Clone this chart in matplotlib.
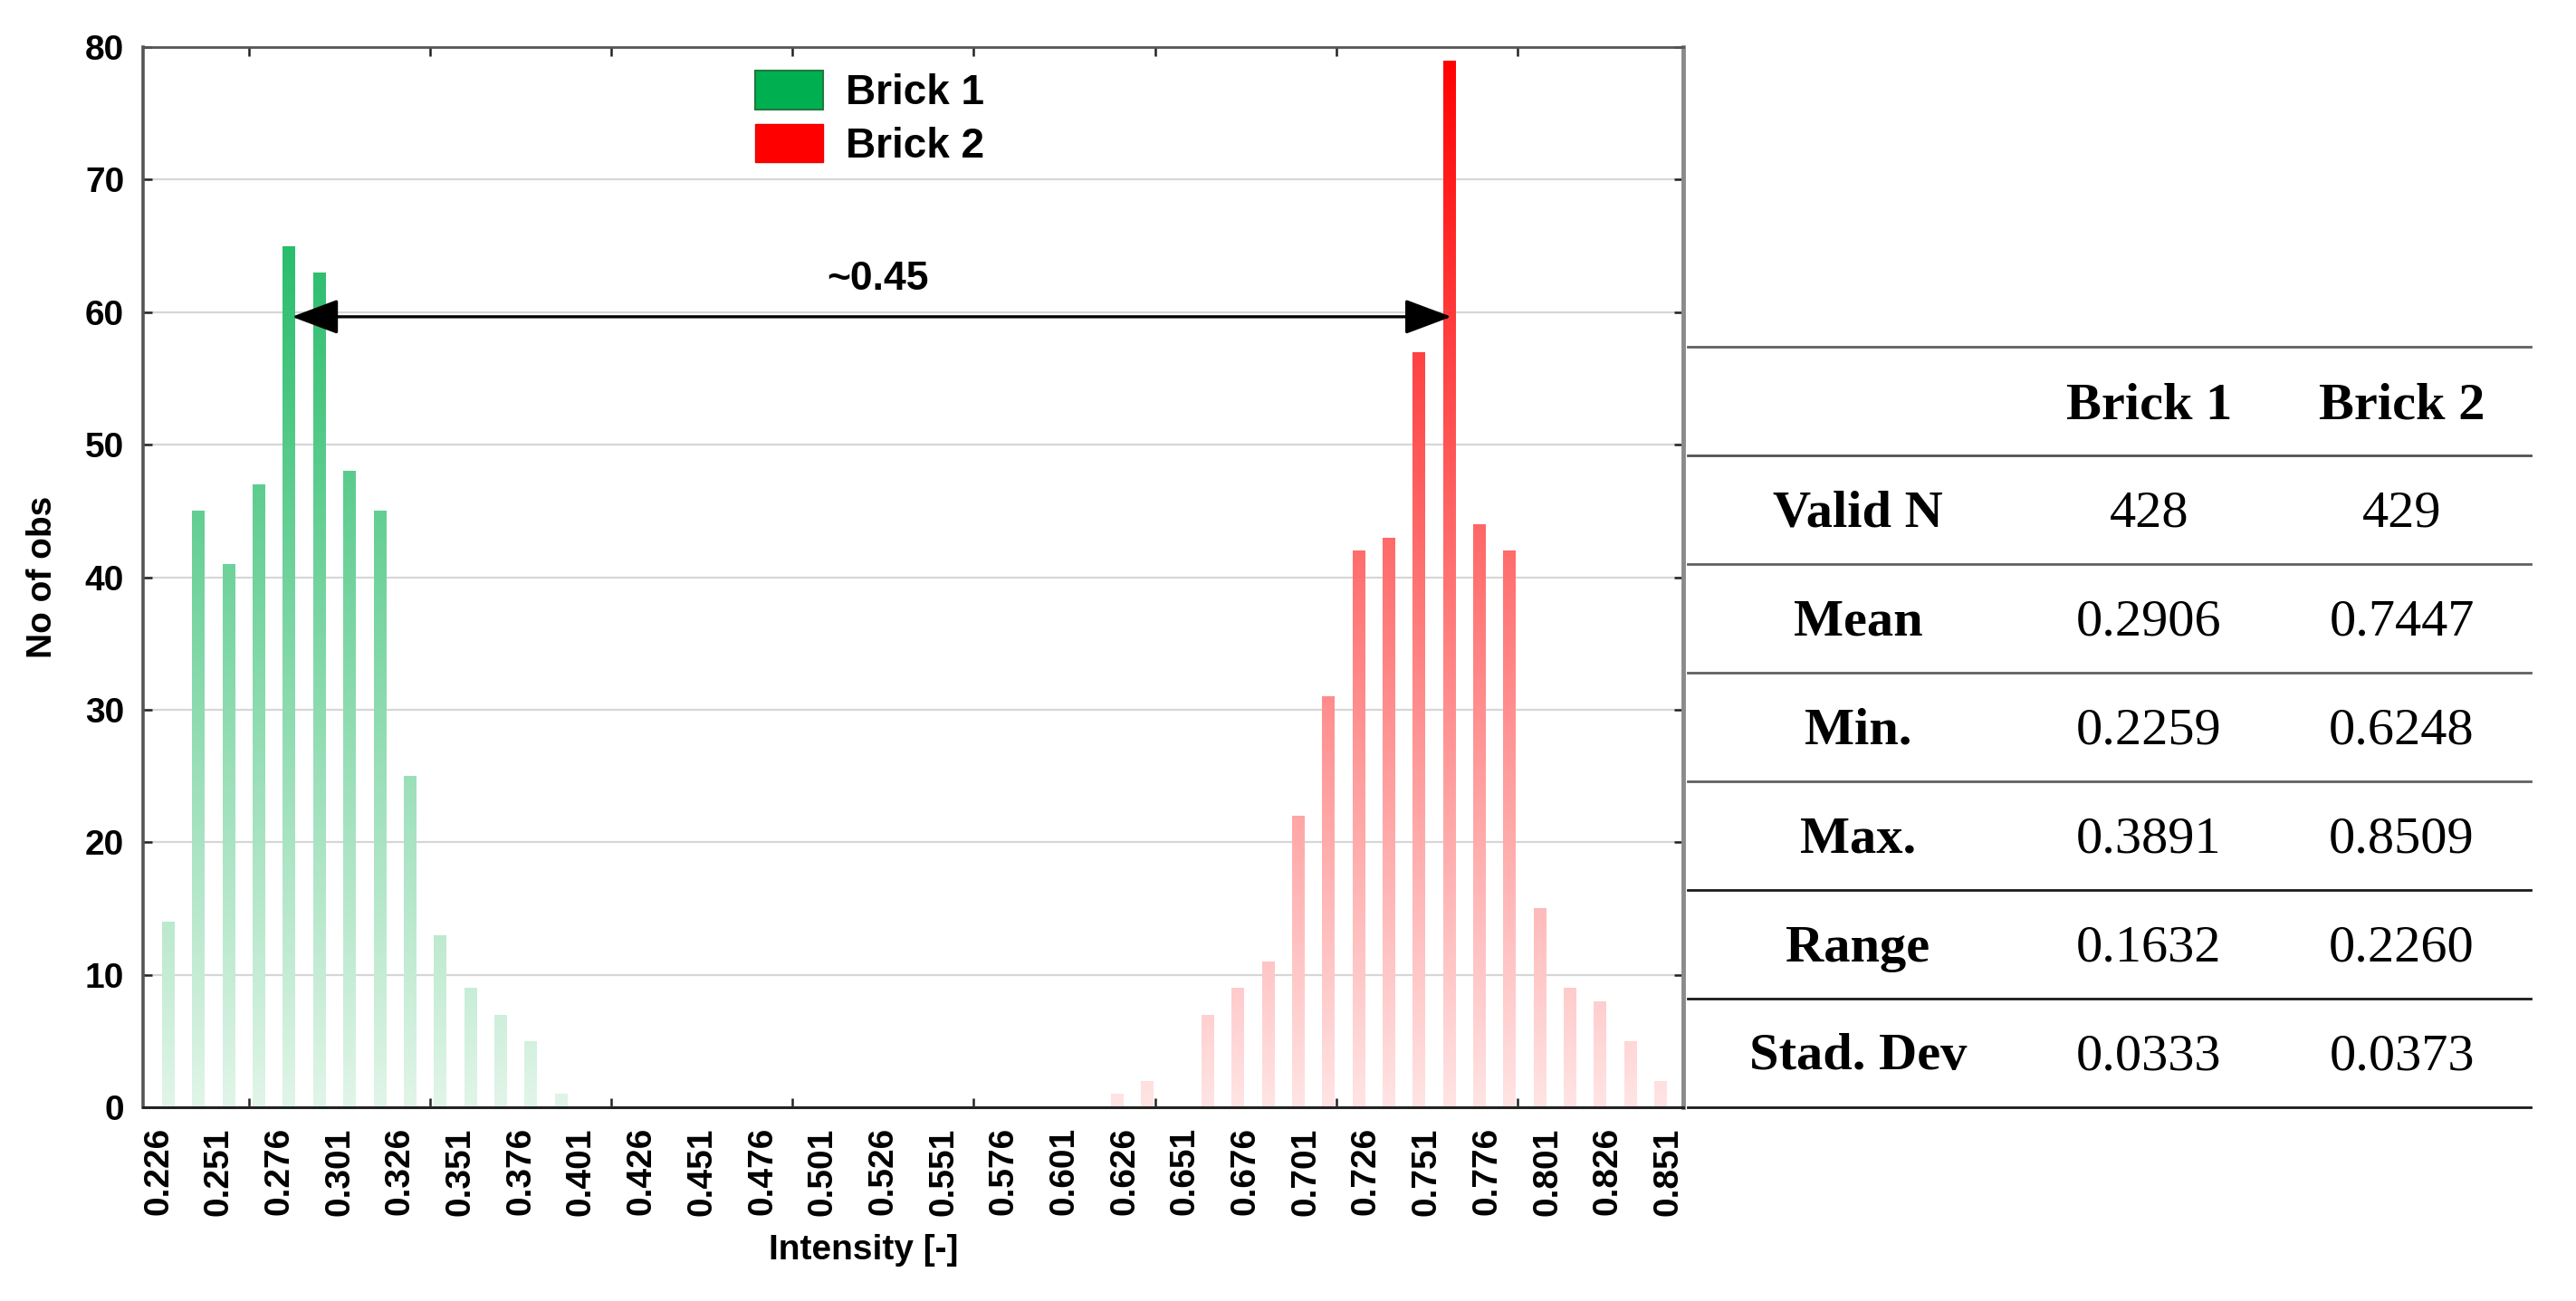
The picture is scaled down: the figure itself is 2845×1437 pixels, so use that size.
import numpy as np
import matplotlib.pyplot as plt
from matplotlib.patches import Patch, Rectangle
from matplotlib.path import Path

plt.rcParams['font.family'] = ['Liberation Sans', 'DejaVu Sans']

# histogram bins (bin index -> left edge = bin_start + idx*bin_width)
bin_start = 0.226
bin_width = 0.0125

brick1_bins = [0, 1, 2, 3, 4, 5, 6, 7, 8, 9, 10, 11, 12, 13]
brick1_counts = [14, 45, 41, 47, 65, 63, 48, 45, 25, 13, 9, 7, 5, 1]

brick2_bins = [31, 32, 34, 35, 36, 37, 38, 39, 40, 41, 42, 43, 44, 45, 46, 47, 48, 49]
brick2_counts = [1, 2, 7, 9, 11, 22, 31, 42, 43, 57, 79, 44, 42, 15, 9, 8, 5, 2]

tick_labels = ['%.3f' % (bin_start + 0.025 * i) for i in range(26)]

# stats table
row_names = ['Valid N', 'Mean', 'Min.', 'Max.', 'Range', 'Stad. Dev']
col_names = ['Brick 1', 'Brick 2']
brick1_stats = ['428', '0.2906', '0.2259', '0.3891', '0.1632', '0.0333']
brick2_stats = ['429', '0.7447', '0.6248', '0.8509', '0.2260', '0.0373']

arrow_from = 0.2812
arrow_to = 0.7612
arrow_y = 59.65
gap_label = '~0.45'

W, H = 2845, 1437
fig = plt.figure(figsize=(W / 100, H / 100), dpi=100)
ax = fig.add_axes([158 / W, 1 - 1223 / H, (1859 - 158) / W, (1223 - 52) / H])

xlo, xhi = 0.2196, 0.8572
ymax = 80


def gradient_bars(ax, bins, counts, offset, c_top, c_bot):
    # one compound clip path from all bars, filled with a vertical gradient
    paths = []
    for b, c in zip(bins, counts):
        r = Rectangle((bin_start + b * bin_width + offset * bin_width, 0), 0.42 * bin_width, c)
        paths.append(r.get_patch_transform().transform_path(r.get_path()))
    clip = Path.make_compound_path(*paths)
    g = np.linspace(0, 1, 256)[:, None, None]
    top = np.array(c_top)[None, None, :] / 255.0
    bot = np.array(c_bot)[None, None, :] / 255.0
    img = bot + (top - bot) * g
    im = ax.imshow(img, extent=[xlo, xhi, 0, ymax], origin='lower', aspect='auto',
                   interpolation='bilinear', zorder=2)
    im.set_clip_path(clip, ax.transData)
    return im


gradient_bars(ax, brick1_bins, brick1_counts, 0.12, (0, 176, 80), (225, 245, 232))
gradient_bars(ax, brick2_bins, brick2_counts, 0.54, (255, 0, 0), (255, 228, 228))

ax.set_xlim(xlo, xhi)
ax.set_ylim(0, ymax)

# grid
ax.set_yticks(np.arange(0, 81, 10))
ax.yaxis.grid(True, color='#d6d6d6', lw=1.6, zorder=0)
ax.set_axisbelow(True)

# x labels every 2 bins, tick marks every 3 bins
ax.set_xticks([bin_start + 0.025 * i for i in range(26)])
ax.set_xticklabels(tick_labels, rotation=90, fontsize=28, fontweight='bold')
ax.set_xticks([bin_start + 0.0375 * i for i in range(17)], minor=True)
ax.tick_params(axis='x', which='major', length=0, pad=16)
ax.tick_params(axis='x', which='minor', direction='in', length=7, width=1.8,
               top=True, bottom=True, color='#222222')
ax.tick_params(axis='y', which='major', direction='in', length=7, width=1.8,
               left=True, right=True, labelsize=28, pad=15, color='#222222')
for lab in ax.get_yticklabels():
    lab.set_fontweight('bold')

ax.spines['left'].set_color('#555555')
ax.spines['left'].set_linewidth(2.6)
ax.spines['bottom'].set_color('#222222')
ax.spines['bottom'].set_linewidth(2.2)
ax.spines['top'].set_color('#555555')
ax.spines['top'].set_linewidth(2.0)
ax.spines['right'].set_color('#8a8a8a')
ax.spines['right'].set_linewidth(3.5)

ax.set_ylabel('No of obs', fontsize=28, fontweight='bold')
ax.yaxis.set_label_coords(-0.0547, 0.5)
ax.set_xlabel('Intensity [-]', fontsize=28, fontweight='bold')
ax.xaxis.set_label_coords(0.468, -0.135)
ax.xaxis.label.set_va('center')

# arrow and label
ax.annotate('', xy=(arrow_to, arrow_y), xytext=(arrow_from, arrow_y),
            arrowprops=dict(arrowstyle='<|-|>,head_length=32,head_width=12',
                            mutation_scale=1, lw=2.4, color='black',
                            shrinkA=0, shrinkB=0), zorder=5)
ax.text(0.5239, 62.45, gap_label, ha='center', va='center', fontsize=32,
        fontweight='bold', zorder=5)

# legend
handles = [Patch(facecolor='#00b050', edgecolor='#1f7a3d', lw=1.5, label=col_names[0]),
           Patch(facecolor='#ff0000', edgecolor='#ee0000', lw=1.0, label=col_names[1])]
ax.legend(handles=handles, loc='upper left', bbox_to_anchor=(0.384, 0.997),
          frameon=False, borderpad=0, handlelength=1.63, handleheight=1.05,
          handletextpad=0.54, labelspacing=0.25,
          prop={'size': 33, 'weight': 'bold'})

# table on the right
tax = fig.add_axes([1864 / W, 1 - 1222.6 / H, 931 / W, (1222.6 - 383.3) / H])
tax.set_xlim(0, 1)
tax.set_ylim(7, 0)
tax.axis('off')
line_cols = ['#606060', '#505050', '#606060', '#606060', '#606060', '#1a1a1a', '#1a1a1a', '#1a1a1a']
for i in range(8):
    tax.axhline(i, color=line_cols[i], lw=2.0, clip_on=False)

col_x = [0.202, 0.547, 0.847]
serif = ['Liberation Serif', 'DejaVu Serif']
dy = 0.04
for j, name in enumerate(col_names):
    tax.text(col_x[j + 1], 0.5 + dy, name, ha='center', va='center', fontsize=42,
             fontweight='bold', family=serif)
for i, name in enumerate(row_names):
    y = i + 1.5 + dy
    tax.text(col_x[0], y, name, ha='center', va='center', fontsize=42,
             fontweight='bold', family=serif)
    tax.text(col_x[1], y, brick1_stats[i], ha='center', va='center', fontsize=42, family=serif)
    tax.text(col_x[2], y, brick2_stats[i], ha='center', va='center', fontsize=42, family=serif)

fig.savefig('out.png', dpi=100, facecolor='white')
